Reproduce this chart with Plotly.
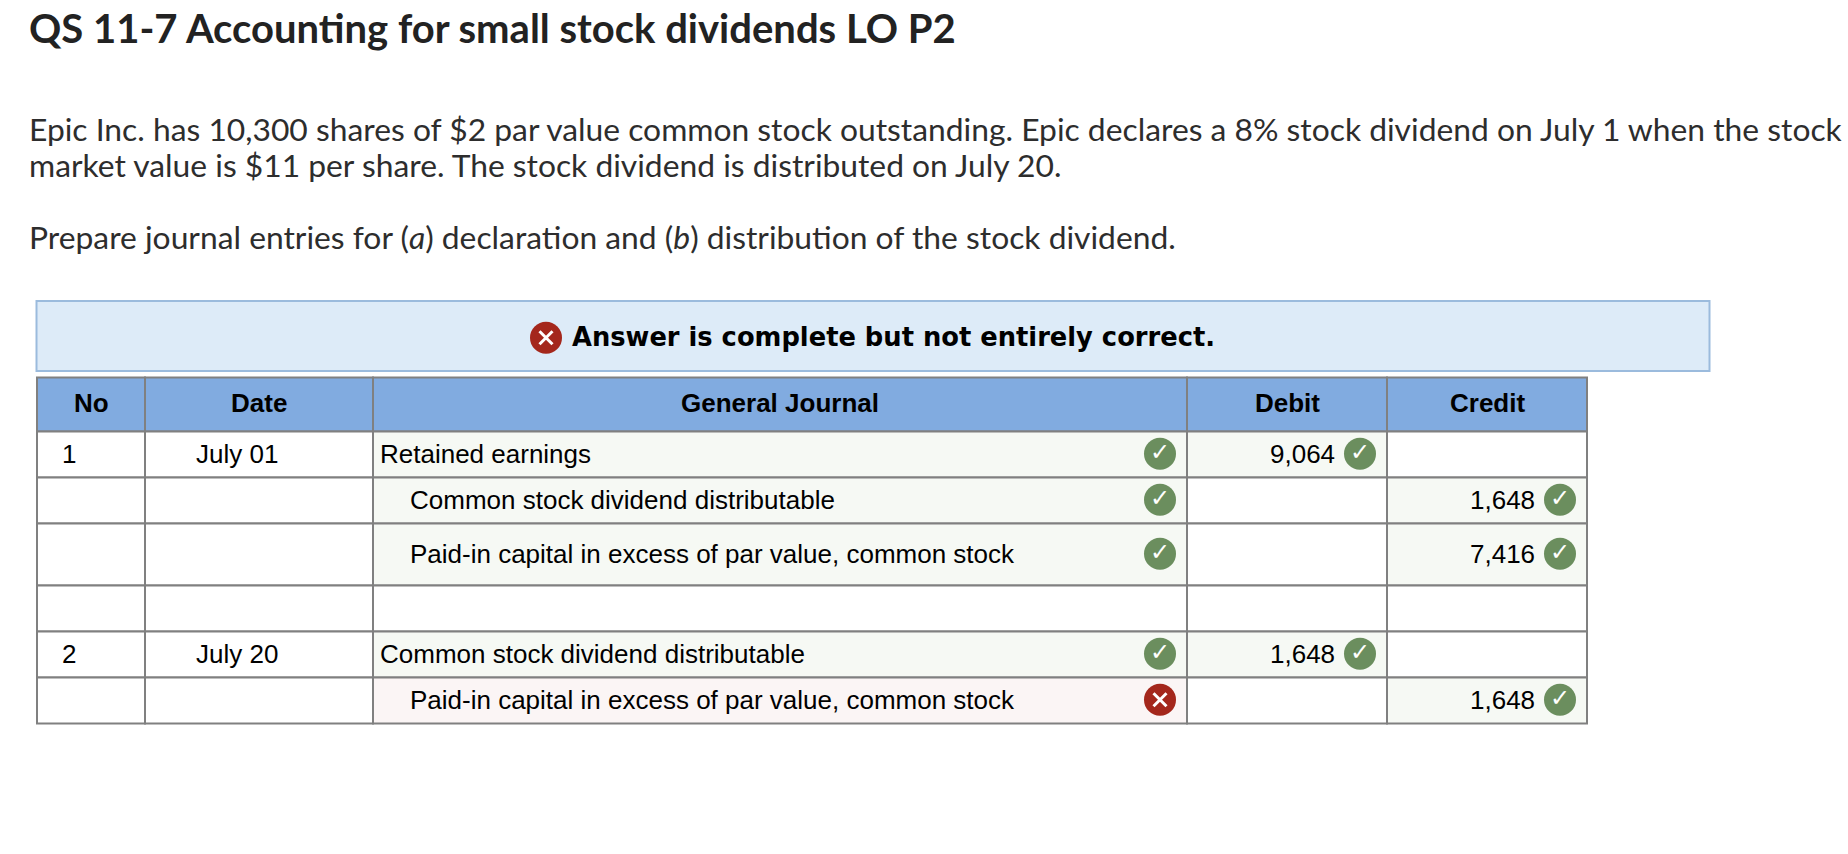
import plotly.graph_objects as go

# text
title = "QS 11-7 Accounting for small stock dividends LO P2"
intro_1 = "Epic Inc. has 10,300 shares of $2 par value common stock outstanding. Epic declares a 8% stock dividend on July 1 when the stock"
intro_2 = "market value is $11 per share. The stock dividend is distributed on July 20."
intro_3 = "Prepare journal entries for (<i>a</i>) declaration and (<i>b</i>) distribution of the stock dividend."
banner = "Answer is complete but not entirely correct."

# table data
headers = ["No", "Date", "General Journal", "Debit", "Credit"]
entry_no = ["1", "", "", "", "2", ""]
dates = ["July 01", "", "", "", "July 20", ""]
accounts = [
    "Retained earnings",
    "Common stock dividend distributable",
    "Paid-in capital in excess of par value, common stock",
    "",
    "Common stock dividend distributable",
    "Paid-in capital in excess of par value, common stock",
]
indented = [False, True, True, False, False, True]
debit = ["9,064", "", "", "", "1,648", ""]
credit = ["", "1,648", "7,416", "", "", "1,648"]
account_ok = [True, True, True, None, True, False]

# layout of the table, in page pixels
col_x = [37, 145, 373, 1187, 1387, 1587]
row_y = [377.5, 431.5, 477.5, 523.5, 585.5, 631.5, 677.5, 723.5]
text_y = [453.7, 499.7, 553.7, 603.7, 653.7, 699.7]

GREY = "#808080"
HEAD = "#81ABE0"
GOOD_BG = "#F6F9F4"
BAD_BG = "#FBF5F5"
GREEN = "#6B8E5E"
RED = "#A4271C"

shapes = []
annots = []


def cell(x0, x1, y0, y1, fill):
    shapes.append(dict(type="rect", x0=x0, x1=x1, y0=y0, y1=y1, fillcolor=fill,
                       line=dict(color=GREY, width=2), layer="below"))


def label(x, y, text, size, font="Liberation Sans", color="#000000", anchor="left", bold=False):
    annots.append(dict(x=x, y=y, text=text, showarrow=False, xanchor=anchor, yanchor="middle",
                       align=anchor, xshift=0, yshift=0,
                       font=dict(family=font, size=size, color=color, weight="bold" if bold else "normal")))


# heading and question
label(27, 28, title, 40, font="Lato", color="#222222", bold=True)
label(27, 129, intro_1, 31.8, font="Lato", color="#2D2D2D")
label(27, 165, intro_2, 31.8, font="Lato", color="#2D2D2D")
label(27, 237, intro_3, 31.8, font="Lato", color="#2D2D2D")

# banner
shapes.append(dict(type="rect", x0=36.5, x1=1709.5, y0=301, y1=371, fillcolor="#DDEBF8",
                   line=dict(color="#9BBBDD", width=2), layer="below"))
label(570, 337, banner, 25.75, font="DejaVu Sans", bold=True)

# header row
for i, h in enumerate(headers):
    cell(col_x[i], col_x[i + 1], row_y[0], row_y[1], HEAD)
    label((col_x[i] + col_x[i + 1]) / 2, 403, h, 26, anchor="center", bold=True)

check_x, check_y = [], []
cross_x, cross_y = [], []

for r in range(len(accounts)):
    y0, y1 = row_y[r + 1], row_y[r + 2]
    ty = text_y[r]
    acc_fill = "#FFFFFF" if account_ok[r] is None else (GOOD_BG if account_ok[r] else BAD_BG)
    cell(col_x[0], col_x[1], y0, y1, "#FFFFFF")
    cell(col_x[1], col_x[2], y0, y1, "#FFFFFF")
    cell(col_x[2], col_x[3], y0, y1, acc_fill)
    cell(col_x[3], col_x[4], y0, y1, GOOD_BG if debit[r] else "#FFFFFF")
    cell(col_x[4], col_x[5], y0, y1, GOOD_BG if credit[r] else "#FFFFFF")

    if entry_no[r]:
        label(69, ty, entry_no[r], 26, anchor="center")
    if dates[r]:
        label(194, ty, dates[r], 26)
    if accounts[r]:
        label(408 if indented[r] else 378, ty, accounts[r], 26)
    if account_ok[r] is True:
        check_x.append(1160)
        check_y.append(ty)
    elif account_ok[r] is False:
        cross_x.append(1160)
        cross_y.append(ty)
    if debit[r]:
        label(1337, ty, debit[r], 26, anchor="right")
        check_x.append(1360)
        check_y.append(ty)
    if credit[r]:
        label(1537, ty, credit[r], 26, anchor="right")
        check_x.append(1560)
        check_y.append(ty)

# the banner cross
cross_x.append(546)
cross_y.append(337.7)

fig = go.Figure()
fig.add_trace(go.Scatter(x=check_x, y=check_y, mode="markers+text", text=["✓"] * len(check_x),
                         textposition="middle center",
                         textfont=dict(family="DejaVu Sans", size=24, color="#FFFFFF"),
                         marker=dict(size=32, color=GREEN), hoverinfo="skip"))
fig.add_trace(go.Scatter(x=cross_x, y=cross_y, mode="markers",
                         marker=dict(size=32, color=RED), hoverinfo="skip"))
fig.add_trace(go.Scatter(x=cross_x, y=cross_y, mode="markers",
                         marker=dict(size=13, symbol="x-thin", color="#FFFFFF",
                                     line=dict(color="#FFFFFF", width=3)), hoverinfo="skip"))

fig.update_layout(width=1848, height=854, margin=dict(l=0, r=0, t=0, b=0), showlegend=False,
                  paper_bgcolor="#FFFFFF", plot_bgcolor="#FFFFFF", shapes=shapes, annotations=annots,
                  xaxis=dict(range=[0, 1848], visible=False, fixedrange=True),
                  yaxis=dict(range=[854, 0], visible=False, fixedrange=True))

fig.write_html("out.html", config=dict(displayModeBar=False),
               post_script="document.body.style.margin='0';")
